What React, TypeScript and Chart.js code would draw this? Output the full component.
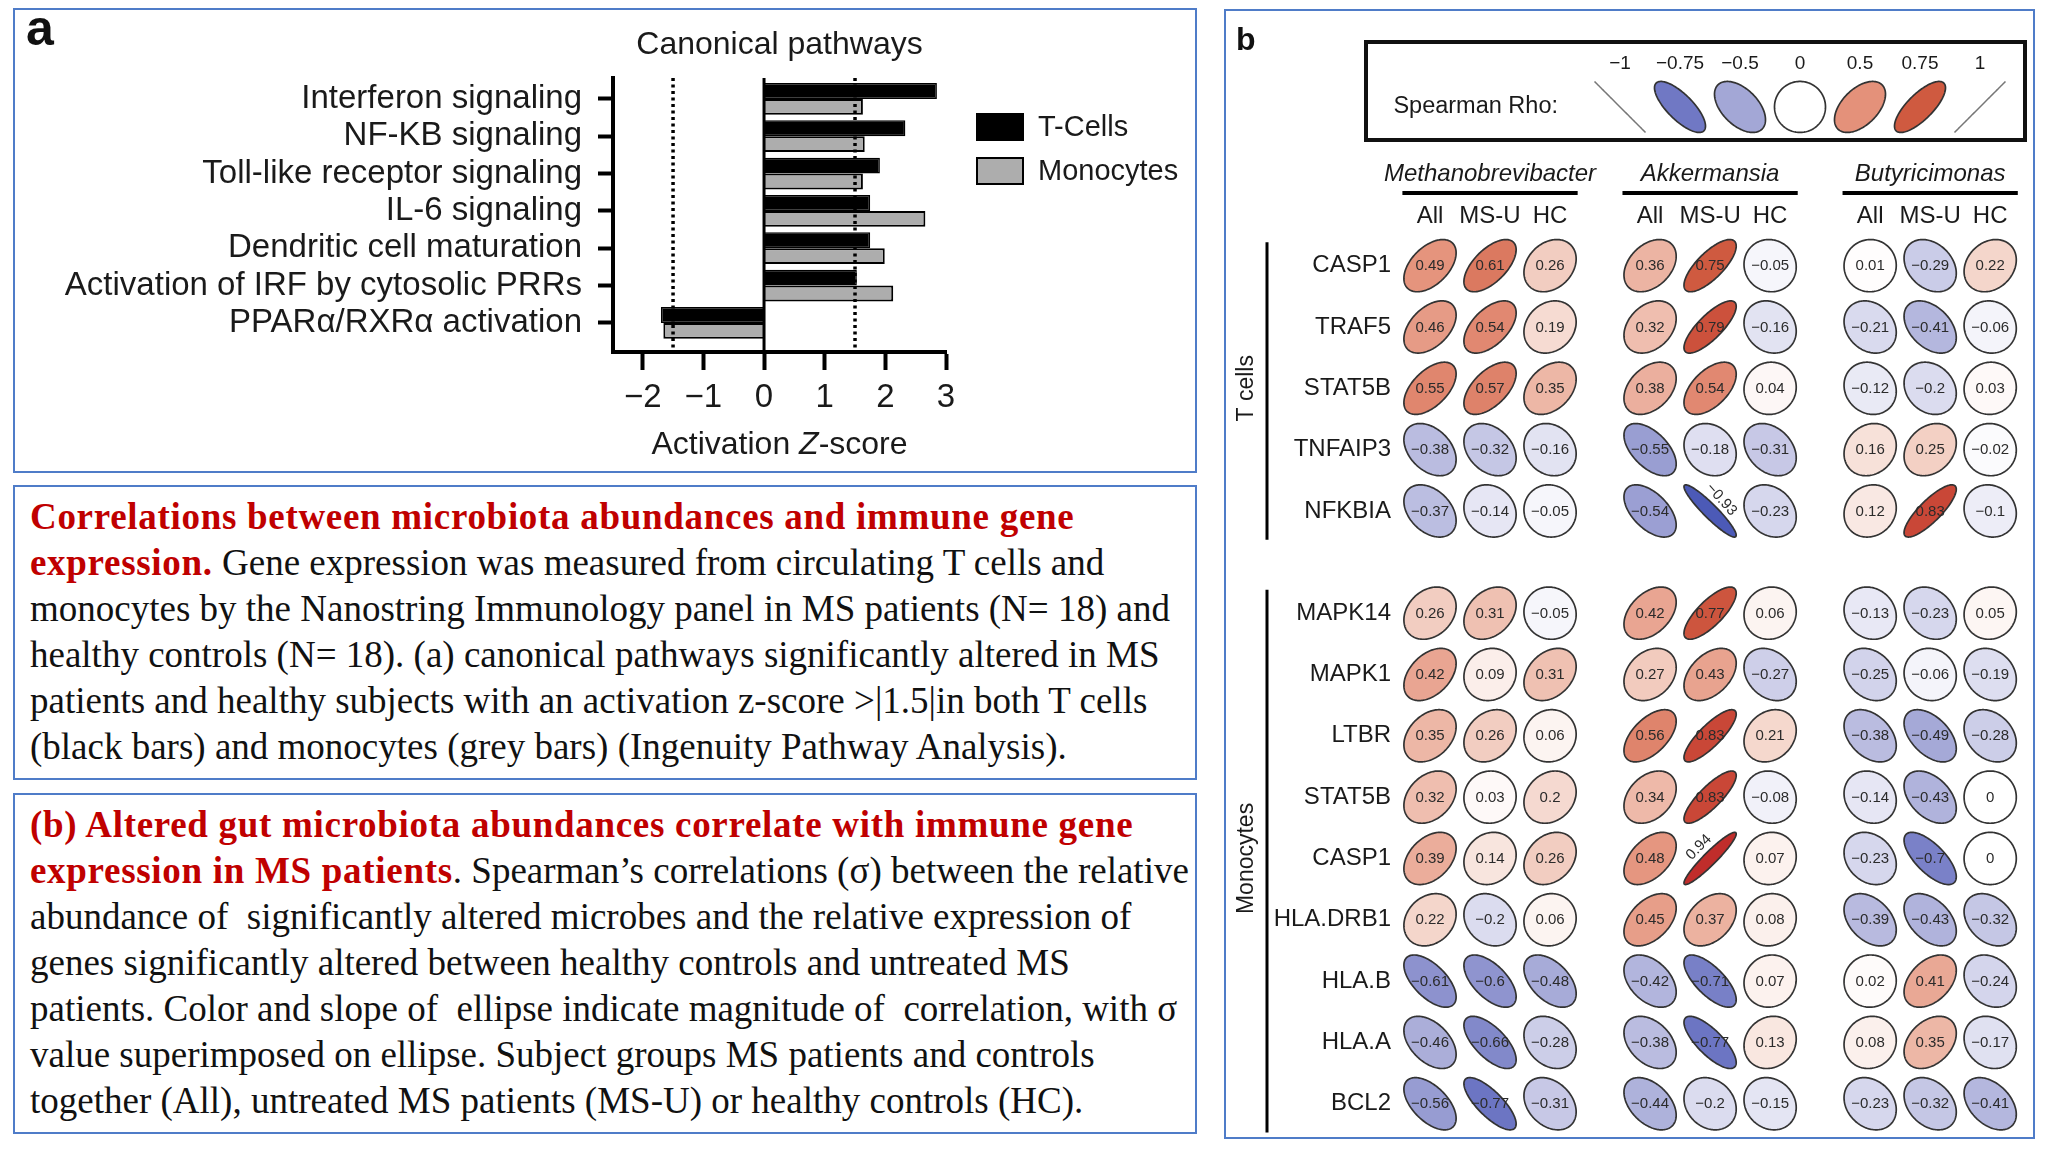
import React, { useEffect, useRef } from 'react';
import { Chart, registerables } from 'chart.js';

Chart.register(...registerables);

const SANS = '"Liberation Sans", Arial, Helvetica, sans-serif';
const SERIF = '"Liberation Serif", "Times New Roman", serif';
const FRAME = '#4f7cc8';
const INK = '#1a1a1a';
const RED = '#c00000';

Chart.defaults.font.family = SANS;
Chart.defaults.color = INK;

// ---------------- Panel a data ----------------
const pathways = [
  'Interferon signaling',
  'NF-KB signaling',
  'Toll-like receptor signaling',
  'IL-6 signaling',
  'Dendritic cell maturation',
  'Activation of IRF by cytosolic PRRs',
  'PPARα/RXRα activation',
];
const tCellZ = [2.85, 2.33, 1.91, 1.75, 1.75, 1.53, -1.7];
const monocyteZ = [1.63, 1.66, 1.63, 2.66, 1.99, 2.13, -1.66];
const zTicks = [-2, -1, 0, 1, 2, 3];
const zThresholds = [-1.5, 1.5];

// ---------------- Panel b data ----------------
const microbes = ['Methanobrevibacter', 'Akkermansia', 'Butyricimonas'];
const subjectGroups = ['All', 'MS-U', 'HC'];
const tCellGenes = ['CASP1', 'TRAF5', 'STAT5B', 'TNFAIP3', 'NFKBIA'];
const monocyteGenes = ['MAPK14', 'MAPK1', 'LTBR', 'STAT5B', 'CASP1', 'HLA.DRB1', 'HLA.B', 'HLA.A', 'BCL2'];
const tCellRho = [
  [0.49, 0.61, 0.26, 0.36, 0.75, -0.05, 0.01, -0.29, 0.22],
  [0.46, 0.54, 0.19, 0.32, 0.79, -0.16, -0.21, -0.41, -0.06],
  [0.55, 0.57, 0.35, 0.38, 0.54, 0.04, -0.12, -0.2, 0.03],
  [-0.38, -0.32, -0.16, -0.55, -0.18, -0.31, 0.16, 0.25, -0.02],
  [-0.37, -0.14, -0.05, -0.54, -0.93, -0.23, 0.12, 0.83, -0.1],
];
const monocyteRho = [
  [0.26, 0.31, -0.05, 0.42, 0.77, 0.06, -0.13, -0.23, 0.05],
  [0.42, 0.09, 0.31, 0.27, 0.43, -0.27, -0.25, -0.06, -0.19],
  [0.35, 0.26, 0.06, 0.56, 0.83, 0.21, -0.38, -0.49, -0.28],
  [0.32, 0.03, 0.2, 0.34, 0.83, -0.08, -0.14, -0.43, 0],
  [0.39, 0.14, 0.26, 0.48, 0.94, 0.07, -0.23, -0.7, 0],
  [0.22, -0.2, 0.06, 0.45, 0.37, 0.08, -0.39, -0.43, -0.32],
  [-0.61, -0.6, -0.48, -0.42, -0.71, 0.07, 0.02, 0.41, -0.24],
  [-0.46, -0.66, -0.28, -0.38, -0.77, 0.13, 0.08, 0.35, -0.17],
  [-0.56, -0.77, -0.31, -0.44, -0.2, -0.15, -0.23, -0.32, -0.41],
];
const legendRho = [-1, -0.75, -0.5, 0, 0.5, 0.75, 1];
const legendTicks = ['−1', '−0.75', '−0.5', '0', '0.5', '0.75', '1'];
const legendTitle = 'Spearman Rho:';

// ---------------- derived layout (value space) ----------------
const GROUP_STEP = 3 + 2 / 3;
const MONO_OFFSET = tCellGenes.length + 2 / 3;
const columnPositions = microbes.flatMap((_, g) => subjectGroups.map((__, c) => g * GROUP_STEP + c));
const rowPositions = [
  ...tCellGenes.map((_, i) => i),
  ...monocyteGenes.map((_, i) => MONO_OFFSET + i),
];
const rowLabels = [...tCellGenes, ...monocyteGenes];
const allRho = [...tCellRho, ...monocyteRho];
const matrixPoints = allRho.flatMap((row, r) =>
  row.map((rho, c) => ({ x: columnPositions[c], y: rowPositions[r], rho }))
);
const cellGroups = [
  { label: 'T cells', first: 0, last: tCellGenes.length - 1 },
  { label: 'Monocytes', first: MONO_OFFSET, last: MONO_OFFSET + monocyteGenes.length - 1 },
];

const minus = (v: number | string) => String(v).replace('-', '−');

// ---------------- colour ramp ----------------
const RAMP: [number, number[]][] = [
  [-1, [62, 78, 178]],
  [-0.75, [112, 120, 196]],
  [-0.5, [163, 167, 214]],
  [-0.25, [210, 211, 235]],
  [0, [255, 255, 255]],
  [0.25, [243, 208, 196]],
  [0.5, [228, 145, 122]],
  [0.75, [207, 90, 64]],
  [1, [187, 31, 36]],
];
function rampColor(r: number): string {
  for (let i = 0; i < RAMP.length - 1; i++) {
    const [a, ca] = RAMP[i];
    const [b, cb] = RAMP[i + 1];
    if (r >= a && r <= b) {
      const t = (r - a) / (b - a);
      const c = ca.map((v, k) => Math.round(v + (cb[k] - v) * t));
      return `rgb(${c[0]},${c[1]},${c[2]})`;
    }
  }
  return '#fff';
}

function drawRhoEllipse(ctx: CanvasRenderingContext2D, cx: number, cy: number, s: number, rho: number, withLabel: boolean) {
  const d = Math.acos(Math.max(-1, Math.min(1, rho)));
  ctx.beginPath();
  const N = 160;
  for (let k = 0; k <= N; k++) {
    const t = (k / N) * Math.PI * 2;
    const px = cx + s * Math.cos(t + d / 2);
    const py = cy - s * Math.cos(t - d / 2);
    if (k === 0) ctx.moveTo(px, py);
    else ctx.lineTo(px, py);
  }
  if (Math.abs(rho) >= 0.999) {
    ctx.strokeStyle = '#777';
    ctx.lineWidth = 1.5;
    ctx.stroke();
    return;
  }
  ctx.closePath();
  ctx.fillStyle = rampColor(rho);
  ctx.fill();
  ctx.strokeStyle = '#333';
  ctx.lineWidth = 1.7;
  ctx.stroke();
  if (!withLabel) return;
  ctx.save();
  ctx.fillStyle = '#2b2b2b';
  ctx.font = `15px ${SANS}`;
  ctx.textAlign = 'center';
  ctx.textBaseline = 'middle';
  const txt = minus(rho);
  if (Math.abs(rho) > 0.9) {
    const off = 16 / Math.SQRT2;
    if (rho > 0) {
      ctx.translate(cx - off, cy - off);
      ctx.rotate(-Math.PI / 4);
    } else {
      ctx.translate(cx + off, cy - off);
      ctx.rotate(Math.PI / 4 + 0.05);
    }
    ctx.fillText(txt, 0, 0);
  } else {
    ctx.fillText(txt, cx, cy + 0.5);
  }
  ctx.restore();
}

const ellipsePlugin = {
  id: 'rhoEllipses',
  afterDatasetsDraw(chart: any, _args: any, opts: any) {
    const { ctx } = chart;
    const xs = chart.scales.x;
    const unit = Math.abs(xs.getPixelForValue(1) - xs.getPixelForValue(0));
    const s = unit * (opts.size || 0.43);
    ctx.save();
    chart.data.datasets.forEach((ds: any, di: number) => {
      const meta = chart.getDatasetMeta(di);
      meta.data.forEach((pt: any, j: number) => {
        drawRhoEllipse(ctx, pt.x, pt.y, s, ds.data[j].rho, !!opts.labels);
      });
    });
    ctx.restore();
  },
};

const matrixDecorPlugin = {
  id: 'matrixDecor',
  afterDraw(chart: any) {
    const { ctx, chartArea } = chart;
    const xs = chart.scales.x;
    const ys = chart.scales.y;
    ctx.save();
    ctx.fillStyle = INK;
    ctx.strokeStyle = '#000';
    ctx.textAlign = 'center';
    ctx.textBaseline = 'middle';
    microbes.forEach((name, g) => {
      const c0 = g * GROUP_STEP;
      ctx.font = `italic 24px ${SANS}`;
      ctx.fillText(name, xs.getPixelForValue(c0 + 1), chartArea.top - 61);
      ctx.lineWidth = 4;
      ctx.beginPath();
      ctx.moveTo(xs.getPixelForValue(c0 - 0.46), chartArea.top - 42);
      ctx.lineTo(xs.getPixelForValue(c0 + 2.46), chartArea.top - 42);
      ctx.stroke();
    });
    cellGroups.forEach((grp) => {
      const y0 = ys.getPixelForValue(grp.first - 0.38);
      const y1 = ys.getPixelForValue(grp.last + 0.47);
      const lx = chartArea.left - 133;
      ctx.lineWidth = 3;
      ctx.beginPath();
      ctx.moveTo(lx, y0);
      ctx.lineTo(lx, y1);
      ctx.stroke();
      const my = (ys.getPixelForValue(grp.first) + ys.getPixelForValue(grp.last)) / 2;
      ctx.save();
      ctx.translate(chartArea.left - 153, my);
      ctx.rotate(-Math.PI / 2);
      ctx.font = `23px ${SANS}`;
      ctx.fillText(grp.label, 0, 0);
      ctx.restore();
    });
    ctx.restore();
  },
};

const refLinesPlugin = {
  id: 'refLines',
  afterDatasetsDraw(chart: any) {
    const { ctx, chartArea } = chart;
    const xs = chart.scales.x;
    ctx.save();
    ctx.strokeStyle = '#000';
    ctx.lineWidth = 3;
    const x0 = xs.getPixelForValue(0);
    ctx.beginPath();
    ctx.moveTo(x0, chartArea.top);
    ctx.lineTo(x0, chartArea.bottom);
    ctx.stroke();
    ctx.setLineDash([3, 3.5]);
    ctx.lineWidth = 3.5;
    zThresholds.forEach((v) => {
      const x = xs.getPixelForValue(v);
      ctx.beginPath();
      ctx.moveTo(x, chartArea.top);
      ctx.lineTo(x, chartArea.bottom);
      ctx.stroke();
    });
    ctx.restore();
  },
};

const barLegendPlugin = {
  id: 'barLegend',
  afterDraw(chart: any) {
    const { ctx, chartArea } = chart;
    ctx.save();
    chart.data.datasets.forEach((ds: any, i: number) => {
      const x = chartArea.right + 31;
      const y = chartArea.top + 36 + i * 44;
      ctx.fillStyle = ds.backgroundColor;
      ctx.fillRect(x, y, 46, 26);
      ctx.strokeStyle = '#000';
      ctx.lineWidth = 2;
      ctx.strokeRect(x, y, 46, 26);
      ctx.fillStyle = INK;
      ctx.font = `29px ${SANS}`;
      ctx.textAlign = 'left';
      ctx.textBaseline = 'middle';
      ctx.fillText(ds.label, x + 61, y + 14);
    });
    ctx.restore();
  },
};

const zTitlePlugin = {
  id: 'zTitle',
  afterDraw(chart: any) {
    const { ctx, chartArea } = chart;
    const parts: [string, string][] = [['Activation ', ''], ['Z', 'italic '], ['-score', '']];
    ctx.save();
    ctx.fillStyle = INK;
    ctx.textBaseline = 'middle';
    ctx.textAlign = 'left';
    const widths = parts.map(([t, st]) => {
      ctx.font = `${st}32px ${SANS}`;
      return ctx.measureText(t).width;
    });
    const total = widths.reduce((a, b) => a + b, 0);
    let x = (chartArea.left + chartArea.right) / 2 - total / 2;
    const y = chartArea.bottom + 93;
    parts.forEach(([t, st], i) => {
      ctx.font = `${st}32px ${SANS}`;
      ctx.fillText(t, x, y);
      x += widths[i];
    });
    ctx.restore();
  },
};

const lineStyle: React.CSSProperties = { whiteSpace: 'pre' };
const redStyle: React.CSSProperties = { color: RED, fontWeight: 'bold', letterSpacing: '0.7px' };

export default function App() {
  const aRef = useRef<HTMLCanvasElement>(null);
  const legRef = useRef<HTMLCanvasElement>(null);
  const bRef = useRef<HTMLCanvasElement>(null);

  useEffect(() => {
    const charts: Chart[] = [];

    if (aRef.current) {
      charts.push(
        new Chart(aRef.current, {
          type: 'bar',
          data: {
            datasets: [
              {
                label: 'T-Cells',
                data: tCellZ.map((v, i) => ({ x: v, y: i })),
                backgroundColor: '#000000',
                borderColor: '#000000',
                borderWidth: 1.5,
              },
              {
                label: 'Monocytes',
                data: monocyteZ.map((v, i) => ({ x: v, y: i })),
                backgroundColor: '#adadad',
                borderColor: '#000000',
                borderWidth: 2,
              },
            ] as any,
          },
          options: {
            indexAxis: 'y',
            responsive: false,
            animation: false,
            events: [],
            layout: { padding: { top: 0, right: 249, bottom: 0, left: 0 } },
            datasets: { bar: { categoryPercentage: 0.85, barPercentage: 1 } },
            scales: {
              x: {
                type: 'linear',
                min: -2.49,
                max: 3,
                offset: false,
                afterBuildTicks: (s: any) => {
                  s.ticks = zTicks.map((v) => ({ value: v }));
                },
                afterFit: (s: any) => {
                  s.height = 119;
                },
                ticks: {
                  callback: (v: any) => minus(v),
                  font: { size: 33 },
                  color: INK,
                  padding: 8,
                  maxRotation: 0,
                  autoSkip: false,
                },
                grid: {
                  drawOnChartArea: false,
                  drawTicks: true,
                  tickLength: 18,
                  tickWidth: 4,
                  tickColor: '#000',
                  color: '#000',
                },
                border: { display: true, color: '#000', width: 4 },
              },
              y: {
                type: 'linear',
                reverse: true,
                offset: false,
                min: -0.56,
                max: 6.78,
                afterBuildTicks: (s: any) => {
                  s.ticks = pathways.map((_, i) => ({ value: i }));
                },
                afterFit: (s: any) => {
                  s.width = 598;
                },
                ticks: {
                  callback: (v: any) => pathways[v],
                  font: { size: 33 },
                  color: INK,
                  padding: 16,
                  autoSkip: false,
                },
                grid: {
                  drawOnChartArea: false,
                  offset: false,
                  drawTicks: true,
                  tickLength: 15,
                  tickWidth: 4,
                  tickColor: '#000',
                  color: '#000',
                },
                border: { display: true, color: '#000', width: 4 },
              },
            } as any,
            plugins: {
              legend: { display: false },
              tooltip: { enabled: false },
              title: {
                display: true,
                text: 'Canonical pathways',
                fullSize: false,
                color: INK,
                font: { size: 32, weight: 'normal' },
                padding: { top: 16, bottom: 13.6 },
              },
            } as any,
          },
          plugins: [refLinesPlugin, barLegendPlugin, zTitlePlugin],
        })
      );
    }

    if (legRef.current) {
      charts.push(
        new Chart(legRef.current, {
          type: 'scatter',
          data: {
            datasets: [
              {
                data: legendRho.map((rho, i) => ({ x: legendTicks[i], y: legendTitle, rho })),
                pointRadius: 0,
                pointHoverRadius: 0,
              } as any,
            ],
          },
          options: {
            responsive: false,
            animation: false,
            events: [],
            layout: { padding: { top: 0, right: 13, bottom: 0, left: 0 } },
            scales: {
              x: {
                type: 'category',
                labels: legendTicks,
                offset: true,
                position: 'top',
                afterFit: (s: any) => {
                  s.height = 38;
                },
                ticks: { font: { size: 19 }, color: INK, padding: 7, autoSkip: false, maxRotation: 0 },
                grid: { display: false, drawTicks: false },
                border: { display: false },
              },
              y: {
                type: 'category',
                labels: [legendTitle],
                offset: true,
                afterFit: (s: any) => {
                  s.width = 222;
                },
                ticks: { font: { size: 23.5 }, color: INK, padding: 0 },
                grid: { display: false, drawTicks: true, tickLength: 32 },
                border: { display: false },
              },
            } as any,
            plugins: {
              legend: { display: false },
              tooltip: { enabled: false },
              rhoEllipses: { size: 0.425, labels: false },
            } as any,
          },
          plugins: [ellipsePlugin],
        })
      );
    }

    if (bRef.current) {
      charts.push(
        new Chart(bRef.current, {
          type: 'scatter',
          data: {
            datasets: [{ data: matrixPoints, pointRadius: 0, pointHoverRadius: 0 } as any],
          },
          options: {
            responsive: false,
            animation: false,
            events: [],
            layout: { padding: { top: 0, right: 13, bottom: 0, left: 0 } },
            scales: {
              x: {
                type: 'linear',
                position: 'top',
                min: -0.5,
                max: 9.83,
                afterBuildTicks: (s: any) => {
                  s.ticks = columnPositions.map((v) => ({ value: v }));
                },
                afterFit: (s: any) => {
                  s.height = 224;
                },
                ticks: {
                  callback: (_v: any, i: number) => subjectGroups[i % subjectGroups.length],
                  font: { size: 24 },
                  color: INK,
                  padding: 4,
                  autoSkip: false,
                  maxRotation: 0,
                },
                grid: { display: false, drawTicks: false },
                border: { display: false },
              },
              y: {
                type: 'linear',
                reverse: true,
                min: -0.5,
                max: 14.17,
                afterBuildTicks: (s: any) => {
                  s.ticks = rowPositions.map((v) => ({ value: v }));
                },
                afterFit: (s: any) => {
                  s.width = 174;
                },
                ticks: {
                  callback: (_v: any, i: number) => rowLabels[i],
                  font: { size: 24 },
                  color: INK,
                  padding: 0,
                  autoSkip: false,
                },
                grid: { display: false, drawTicks: true, tickLength: 9 },
                border: { display: false },
              },
            } as any,
            plugins: {
              legend: { display: false },
              tooltip: { enabled: false },
              rhoEllipses: { size: 0.435, labels: true },
            } as any,
          },
          plugins: [ellipsePlugin, matrixDecorPlugin],
        })
      );
    }

    return () => charts.forEach((c) => c.destroy());
  }, []);

  const abs = (l: number, t: number, w: number, h: number): React.CSSProperties => ({
    position: 'absolute',
    left: l,
    top: t,
    width: w,
    height: h,
    boxSizing: 'border-box',
  });

  return (
    <div style={{ position: 'absolute', left: 0, top: 0, width: 2048, height: 1152, background: '#fff', overflow: 'hidden' }}>
      {/* Panel a */}
      <div style={{ ...abs(13, 8, 1184, 465), border: `2px solid ${FRAME}` }} />
      <canvas ref={aRef} width={1180} height={461} style={{ ...abs(15, 10, 1180, 461), display: 'block' }} />
      <div style={{ position: 'absolute', left: 26, top: 3, font: `bold 50px/50px ${SANS}`, color: '#111' }}>a</div>

      {/* Caption boxes */}
      <div
        style={{
          ...abs(13, 485, 1184, 295),
          border: `2px solid ${FRAME}`,
          padding: '7px 0 0 15px',
          font: `37px/46px ${SERIF}`,
          color: '#111',
        }}
      >
        <div style={lineStyle}><span style={redStyle}>Correlations between microbiota abundances and immune gene</span></div>
        <div style={lineStyle}><span style={redStyle}>expression.</span> Gene expression was measured from circulating T cells and</div>
        <div style={lineStyle}>monocytes by the Nanostring Immunology panel in MS patients (N= 18) and</div>
        <div style={lineStyle}>healthy controls (N= 18). (a) canonical pathways significantly altered in MS</div>
        <div style={lineStyle}>patients and healthy subjects with an activation z-score &gt;|1.5|in both T cells</div>
        <div style={lineStyle}>(black bars) and monocytes (grey bars) (Ingenuity Pathway Analysis).</div>
      </div>
      <div
        style={{
          ...abs(13, 793, 1184, 341),
          border: `2px solid ${FRAME}`,
          padding: '7px 0 0 15px',
          font: `37px/46px ${SERIF}`,
          color: '#111',
        }}
      >
        <div style={lineStyle}><span style={redStyle}>(b) Altered gut microbiota abundances correlate with immune gene</span></div>
        <div style={lineStyle}><span style={redStyle}>expression in MS patients</span>. Spearman’s correlations (σ) between the relative</div>
        <div style={lineStyle}>abundance of  significantly altered microbes and the relative expression of</div>
        <div style={lineStyle}>genes significantly altered between healthy controls and untreated MS</div>
        <div style={lineStyle}>patients. Color and slope of  ellipse indicate magnitude of  correlation, with σ</div>
        <div style={lineStyle}>value superimposed on ellipse. Subject groups MS patients and controls</div>
        <div style={lineStyle}>together (All), untreated MS patients (MS-U) or healthy controls (HC).</div>
      </div>

      {/* Panel b */}
      <div style={{ ...abs(1224, 9, 811, 1130), border: `2px solid ${FRAME}` }} />
      <canvas ref={bRef} width={807} height={1138} style={{ ...abs(1226, 11, 807, 1138), display: 'block' }} />
      <div style={{ ...abs(1364, 40, 663, 102), border: '4px solid #111', background: '#fff' }} />
      <canvas ref={legRef} width={655} height={102} style={{ ...abs(1368, 44, 655, 102), display: 'block' }} />
      <div style={{ position: 'absolute', left: 1236, top: 23, font: `bold 32px/32px ${SANS}`, color: '#111' }}>b</div>
    </div>
  );
}
